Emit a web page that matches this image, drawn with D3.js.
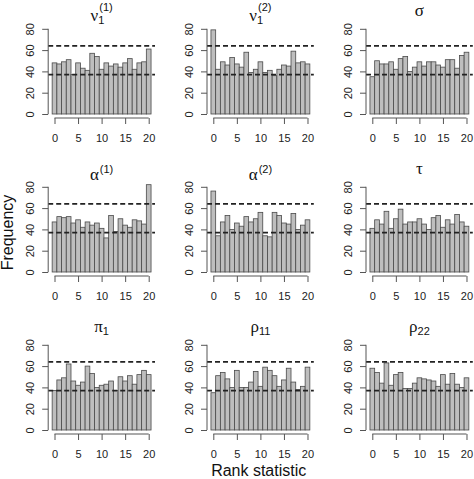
<!DOCTYPE html>
<html><head><meta charset="utf-8">
<script src="https://cdn.jsdelivr.net/npm/d3@7"></script>
<style>html,body{margin:0;padding:0;background:#fff;overflow:hidden}</style>
</head><body>
<svg id="chart" width="474" height="479"></svg>
<script>
// ---- data ----
const ranks = [0,1,2,3,4,5,6,7,8,9,10,11,12,13,14,15,16,17,18,19,20];
const nu1_1  = [48,47,49,51,37,48,43,41,57,54,42,48,45,47,44,48,52,42,48,49,61];
const nu1_2  = [79,42,49,46,53,47,44,58,39,42,49,39,41,36,42,46,45,59,48,49,47];
const sigma  = [35,50,47,47,49,42,52,54,40,44,49,45,49,49,46,44,51,51,43,55,58];
const alpha_1 = [47,52,51,52,46,49,42,47,44,46,41,32,53,38,50,44,42,49,48,45,82];
const alpha_2 = [76,34,47,53,40,46,43,52,47,50,56,34,33,56,53,46,45,55,40,44,49];
const tau    = [41,49,45,57,41,50,59,45,47,47,50,45,40,51,53,42,49,45,54,47,43];
const pi_1   = [37,47,49,62,46,42,45,60,53,40,42,43,46,37,50,46,51,43,52,56,52];
const rho_11 = [35,51,54,48,40,56,40,40,45,55,41,59,56,51,41,47,58,45,38,41,59];
const rho_22 = [58,54,44,63,42,52,54,39,39,44,49,48,47,46,41,52,43,53,43,40,49];
const panelSeries = [nu1_1, nu1_2, sigma, alpha_1, alpha_2, tau, pi_1, rho_11, rho_22];
const titleMain = ["ν","ν","σ","α","α","τ","π","ρ","ρ"];
const titleSub  = ["1","1","","","","","1","11","22"];
const titleSup  = ["(1)","(2)","","(1)","(2)","","","",""];
const xTicks = [0,5,10,15,20];
const yTicks = [0,20,40,60,80];
const bandLines = [37, 64];
const xLabel = "Rank statistic";
const yLabel = "Frequency";

// ---- layout ----
const svg = d3.select("#chart");
const sans = "'Liberation Sans', Arial, sans-serif";
const serif = "'Liberation Serif', 'Times New Roman', serif";
const colLeft = [48.2, 207, 366];
const rowZero = [114, 272, 430];
const plotW = 106.8, yH = 85.2;

panelSeries.forEach((vals, i) => {
  const c = i % 3, r = Math.floor(i / 3);
  const L = colLeft[c], y0 = rowZero[r];
  const xs = d3.scaleLinear().domain([-1.34, 21.34]).range([L, L + plotW]);
  const ys = d3.scaleLinear().domain([0, 80]).range([y0, y0 - yH]);
  const g = svg.append("g");

  // bars
  g.selectAll("rect.bar").data(ranks).join("rect")
    .attr("class","bar")
    .attr("x", d => xs(d - 0.5))
    .attr("width", d => xs(d + 0.5) - xs(d - 0.5))
    .attr("y", d => ys(vals[d]))
    .attr("height", d => ys(0) - ys(vals[d]))
    .attr("fill", "#bebebe")
    .attr("stroke", "#4a4a4a")
    .attr("stroke-width", 0.8);

  // dashed reference lines
  g.selectAll("line.band").data(bandLines).join("line")
    .attr("class","band")
    .attr("x1", L).attr("x2", L + plotW)
    .attr("y1", d => ys(d)).attr("y2", d => ys(d))
    .attr("stroke", "#222").attr("stroke-width", 1.6)
    .attr("stroke-dasharray", "5,3");

  // x axis
  const xa = g.append("g").attr("transform", `translate(0,${y0 + 4})`)
    .call(d3.axisBottom(xs).tickValues(xTicks).tickSize(6).tickSizeOuter(0));
  xa.select(".domain").remove();
  xa.append("line").attr("x1", xs(xTicks[0])).attr("x2", xs(xTicks[xTicks.length-1]))
    .attr("stroke", "#555").attr("stroke-width", 1);
  xa.selectAll(".tick line").attr("stroke", "#555");
  xa.selectAll(".tick text").attr("y", 24).attr("dy", null)
    .style("font-family", sans).style("font-size", "11px").attr("fill", "#222");

  // y axis
  const ya = g.append("g").attr("transform", `translate(${L},0)`)
    .call(d3.axisLeft(ys).tickValues(yTicks).tickSize(6).tickSizeOuter(0));
  ya.select(".domain").remove();
  ya.append("line").attr("y1", ys(yTicks[0])).attr("y2", ys(yTicks[yTicks.length-1]))
    .attr("stroke", "#555").attr("stroke-width", 1);
  ya.selectAll(".tick line").attr("stroke", "#555");
  ya.selectAll(".tick text").attr("x", null).attr("dy", null)
    .attr("transform", "translate(-14,0) rotate(-90)")
    .attr("text-anchor", "middle")
    .style("font-family", sans).style("font-size", "11px").attr("fill", "#222");

  // title
  const hasSub = titleSub[i] !== "", hasSup = titleSup[i] !== "";
  const base = y0 - 114 + (hasSup && hasSub ? 20.5 : hasSup ? 22 : 16.3);
  const tg = g.append("g");
  const mt = tg.append("text").attr("x", 0).attr("y", 0).text(titleMain[i])
    .style("font-family", serif).style("font-size", "17px").attr("fill", "#111");
  const mw = mt.node().getComputedTextLength();
  let extra = 0;
  if (hasSub) {
    const st = tg.append("text").attr("x", mw).attr("y", 3).text(titleSub[i])
      .style("font-family", sans).style("font-size", "11px").attr("fill", "#111");
    extra = Math.max(extra, st.node().getComputedTextLength());
  }
  if (hasSup) {
    const pt = tg.append("text").attr("x", mw + 1).attr("y", hasSub ? -10 : -7).text(titleSup[i])
      .style("font-family", sans).style("font-size", "11px").attr("fill", "#111");
    extra = Math.max(extra, pt.node().getComputedTextLength() + 1);
  }
  const tw = mw + extra;
  const cx = L + plotW / 2;
  tg.attr("transform", `translate(${cx - tw / 2},${base})`);
});

// outer labels
svg.append("text").attr("x", 258.7).attr("y", 476).attr("text-anchor", "middle")
  .style("font-family", sans).style("font-size", "16px").attr("fill", "#111").text(xLabel);
svg.append("text").attr("transform", "translate(12.7,232.5) rotate(-90)").attr("text-anchor", "middle")
  .style("font-family", sans).style("font-size", "16px").attr("fill", "#111").text(yLabel);
</script>
</body></html>
